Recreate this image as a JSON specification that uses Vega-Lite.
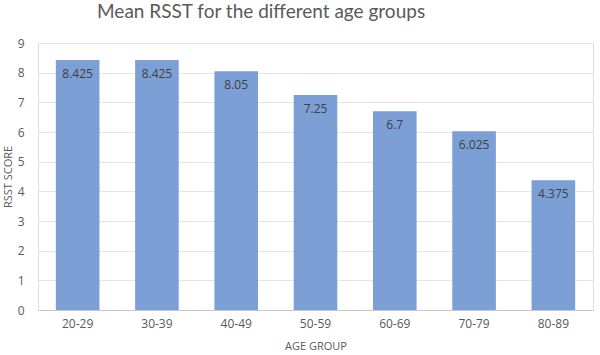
{
  "$schema": "https://vega.github.io/schema/vega-lite/v6.json",
  "autosize": {"type": "none"},
  "width": 555,
  "height": 267,
  "padding": {"left": 38, "top": 43, "right": 7, "bottom": 45},
  "background": "white",
  "title": {
    "text": "Mean RSST for the different age groups",
    "anchor": "start",
    "frame": "group",
    "dx": 59,
    "offset": 15,
    "fontSize": 19,
    "font": "Lato",
    "fontWeight": "normal",
    "color": "#595959"
  },
  "data": {
    "values": [
      {"age": "20-29", "score": 8.425},
      {"age": "30-39", "score": 8.425},
      {"age": "40-49", "score": 8.05},
      {"age": "50-59", "score": 7.25},
      {"age": "60-69", "score": 6.7},
      {"age": "70-79", "score": 6.025},
      {"age": "80-89", "score": 4.375}
    ]
  },
  "encoding": {
    "x": {
      "field": "age",
      "type": "nominal",
      "sort": null,
      "scale": {"paddingInner": 0.45, "paddingOuter": 0.225},
      "axis": {
        "title": "AGE GROUP",
        "labelAngle": 0,
        "labelFontSize": 12,
        "labelColor": "#595959",
        "labelFont": "Open Sans",
        "labelPadding": 8,
        "ticks": false,
        "domainColor": "#c8c8c8",
        "titleFont": "Open Sans",
        "titleFontSize": 11,
        "titleFontWeight": "normal",
        "titleColor": "#595959",
        "titlePadding": 11
      }
    },
    "y": {
      "field": "score",
      "type": "quantitative",
      "scale": {"domain": [0, 9]},
      "axis": {
        "title": "RSST SCORE",
        "values": [0, 1, 2, 3, 4, 5, 6, 7, 8, 9],
        "labelFontSize": 12,
        "labelColor": "#595959",
        "labelFont": "Open Sans",
        "labelPadding": 14,
        "ticks": false,
        "domain": false,
        "gridColor": "#e4e4e4",
        "titleFont": "Open Sans",
        "titleFontSize": 11,
        "titleFontWeight": "normal",
        "titleColor": "#595959",
        "titlePadding": 4
      }
    }
  },
  "layer": [
    {"mark": {"type": "bar", "color": "#7c9fd6"}},
    {
      "mark": {"type": "text", "baseline": "middle", "dy": 14, "fontSize": 12, "font": "Open Sans", "color": "#404040"},
      "encoding": {"text": {"field": "score", "type": "quantitative"}}
    }
  ]
}
